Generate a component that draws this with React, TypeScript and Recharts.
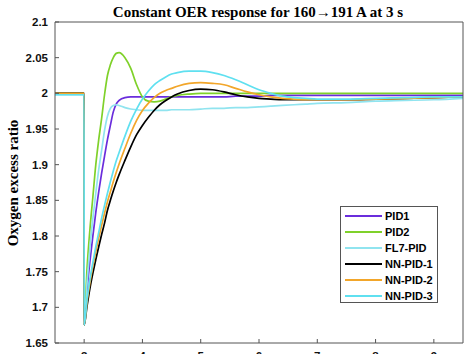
import React from 'react';
import { LineChart, Line, XAxis, YAxis } from 'recharts';

const time = [2.5, 2.999, 3.0, 3.05, 3.1, 3.15, 3.2, 3.25, 3.3, 3.35, 3.4, 3.45, 3.5, 3.55, 3.6, 3.7, 3.8, 3.9, 4.0, 4.1, 4.2, 4.3, 4.4, 4.5, 4.6, 4.8, 5.0, 5.2, 5.4, 5.6, 5.8, 6.0, 6.2, 6.4, 6.6, 6.8, 7.0, 7.5, 8.0, 8.5, 9.0, 9.5];

const pid1 = [2.0, 2.0, 1.675,
  1.725, 1.765, 1.8, 1.833, 1.862, 1.888, 1.912, 1.935, 1.955, 1.974, 1.985, 1.99,
  1.994, 1.995, 1.995, 1.995, 1.995, 1.995, 1.995, 1.995, 1.995, 1.995,
  1.995, 1.995, 1.995, 1.995, 1.996, 1.996, 1.996, 1.997, 1.997, 1.997, 1.997, 1.997,
  1.997, 1.997, 1.997, 1.997, 1.997];

const pid2 = [2.0, 2.0, 1.675,
  1.755, 1.81, 1.855, 1.9, 1.935, 1.965, 1.998, 2.025, 2.04, 2.05, 2.056, 2.057,
  2.05, 2.035, 2.012, 1.995, 1.989, 1.988, 1.989, 1.992, 1.995, 1.997,
  1.999, 2.0, 2.0, 2.0, 2.0, 2.0, 2.0, 2.0, 2.0, 2.0, 2.0, 2.0,
  2.0, 2.0, 2.0, 2.0, 2.0];

const fl7pid = [1.998, 1.998, 1.675,
  1.735, 1.785, 1.825, 1.86, 1.893, 1.92, 1.948, 1.968, 1.979, 1.983, 1.984, 1.983,
  1.98, 1.978, 1.977, 1.976, 1.976, 1.976, 1.976, 1.976, 1.977, 1.977,
  1.977, 1.978, 1.979, 1.979, 1.98, 1.98, 1.981, 1.982, 1.983, 1.984, 1.985, 1.986,
  1.987, 1.989, 1.99, 1.991, 1.993];

const nnpid1 = [2.0, 2.0, 1.675,
  1.702, 1.727, 1.748, 1.767, 1.785, 1.802, 1.818, 1.836, 1.85, 1.863, 1.875, 1.886,
  1.906, 1.925, 1.942, 1.955, 1.966, 1.976, 1.984, 1.99, 1.995, 1.999,
  2.004, 2.006, 2.005, 2.002, 1.998, 1.995, 1.993, 1.992, 1.991, 1.991, 1.991, 1.991,
  1.991, 1.992, 1.993, 1.994, 1.995];

const nnpid2 = [2.0, 2.0, 1.675,
  1.708, 1.735, 1.758, 1.778, 1.797, 1.815, 1.832, 1.848, 1.862, 1.876, 1.889, 1.901,
  1.923, 1.944, 1.962, 1.976, 1.986, 1.994, 2.0, 2.004, 2.007, 2.01,
  2.014, 2.015, 2.014, 2.012, 2.007, 2.002, 1.998, 1.995, 1.993, 1.992, 1.991, 1.991,
  1.991, 1.992, 1.993, 1.994, 1.995];

const nnpid3 = [1.998, 1.998, 1.675,
  1.712, 1.74, 1.763, 1.785, 1.805, 1.825, 1.843, 1.86, 1.876, 1.891, 1.905, 1.917,
  1.94, 1.961, 1.978, 1.992, 2.003, 2.012, 2.018, 2.023, 2.027, 2.029,
  2.031, 2.031, 2.029, 2.025, 2.019, 2.012, 2.005, 2.0, 1.996, 1.994, 1.993, 1.992,
  1.992, 1.993, 1.994, 1.995, 1.995];

const seriesKeys = ['pid1', 'pid2', 'fl7', 'nn1', 'nn2', 'nn3'];
const seriesNames = ['PID1', 'PID2', 'FL7-PID', 'NN-PID-1', 'NN-PID-2', 'NN-PID-3'];
const seriesColors = ['#6a2ddc', '#7fd12a', '#90e4ef', '#000000', '#f2a62a', '#5fe0f0'];
const seriesValues = [pid1, pid2, fl7pid, nnpid1, nnpid2, nnpid3];

const xTicks = [3, 4, 5, 6, 7, 8, 9];
const yTicks = [1.65, 1.7, 1.75, 1.8, 1.85, 1.9, 1.95, 2.0, 2.05, 2.1];

const titleText = 'Constant OER response for 160\u2192191 A at 3 s';
const yLabelText = 'Oxygen excess ratio';

const data = time.map((t, i) => {
  const row: Record<string, number> = { t };
  seriesKeys.forEach((k, j) => {
    row[k] = seriesValues[j][i];
  });
  return row;
});

const axisColor = '#555';
const tickFont = { fill: '#111', fontSize: 11.5, fontWeight: 700, fontFamily: 'Arial, "Liberation Sans", sans-serif' };

export default function App() {
  return (
    <div style={{ position: 'absolute', left: 0, top: 0, width: 474, height: 354, background: '#fff', overflow: 'hidden' }}>
      <LineChart width={474} height={354} data={data} margin={{ top: 21, right: 10, bottom: 10, left: 54 }}>
        <XAxis xAxisId="b" dataKey="t" type="number" domain={[2.5, 9.5]} ticks={xTicks} interval={0}
          height={1} tickSize={-4} tickMargin={13} allowDataOverflow
          axisLine={{ stroke: axisColor }} tickLine={{ stroke: axisColor }} tick={tickFont} />
        <XAxis xAxisId="t" orientation="top" dataKey="t" type="number" domain={[2.5, 9.5]} ticks={xTicks} interval={0}
          height={1} tickSize={-4} allowDataOverflow
          axisLine={{ stroke: axisColor }} tickLine={{ stroke: axisColor }} tick={false} />
        <YAxis yAxisId="l" type="number" domain={[1.65, 2.1]} ticks={yTicks} interval={0}
          width={1} tickSize={-4} tickMargin={11} allowDataOverflow
          axisLine={{ stroke: axisColor }} tickLine={{ stroke: axisColor }} tick={tickFont}
          tickFormatter={(v: number) => String(Number(v.toFixed(2)))} />
        <YAxis yAxisId="r" orientation="right" type="number" domain={[1.65, 2.1]} ticks={yTicks} interval={0}
          width={1} tickSize={-4} allowDataOverflow
          axisLine={{ stroke: axisColor }} tickLine={{ stroke: axisColor }} tick={false} />
        {seriesKeys.map((k, j) => (
          <Line key={k} xAxisId="b" yAxisId="l" type="monotone" dataKey={k} name={seriesNames[j]}
            stroke={seriesColors[j]} strokeWidth={1.7} dot={false} isAnimationActive={false} />
        ))}
      </LineChart>
      <div style={{ position: 'absolute', left: 258, top: 12, transform: 'translate(-50%, -50%)', whiteSpace: 'nowrap',
        fontFamily: '"Liberation Serif", "Times New Roman", serif', fontWeight: 700, fontSize: 15, color: '#000' }}>
        {titleText}
      </div>
      <div style={{ position: 'absolute', left: 13, top: 183, transform: 'translate(-50%, -50%) rotate(-90deg)', whiteSpace: 'nowrap',
        fontFamily: '"Liberation Serif", "Times New Roman", serif', fontWeight: 700, fontSize: 15, color: '#000' }}>
        {yLabelText}
      </div>
      <div style={{ position: 'absolute', left: 340, top: 206, width: 98, height: 97, boxSizing: 'border-box',
        border: `1px solid ${axisColor}`, background: '#fff', paddingTop: 1 }}>
        {seriesNames.map((n, j) => (
          <div key={n} style={{ height: 16, display: 'flex', alignItems: 'center' }}>
            <span style={{ display: 'inline-block', width: 37, height: 2, background: seriesColors[j], marginLeft: 4, marginRight: 3 }} />
            <span style={{ fontFamily: 'Arial, "Liberation Sans", sans-serif', fontWeight: 700, fontSize: 11, color: '#000', lineHeight: '12px' }}>{n}</span>
          </div>
        ))}
      </div>
    </div>
  );
}
